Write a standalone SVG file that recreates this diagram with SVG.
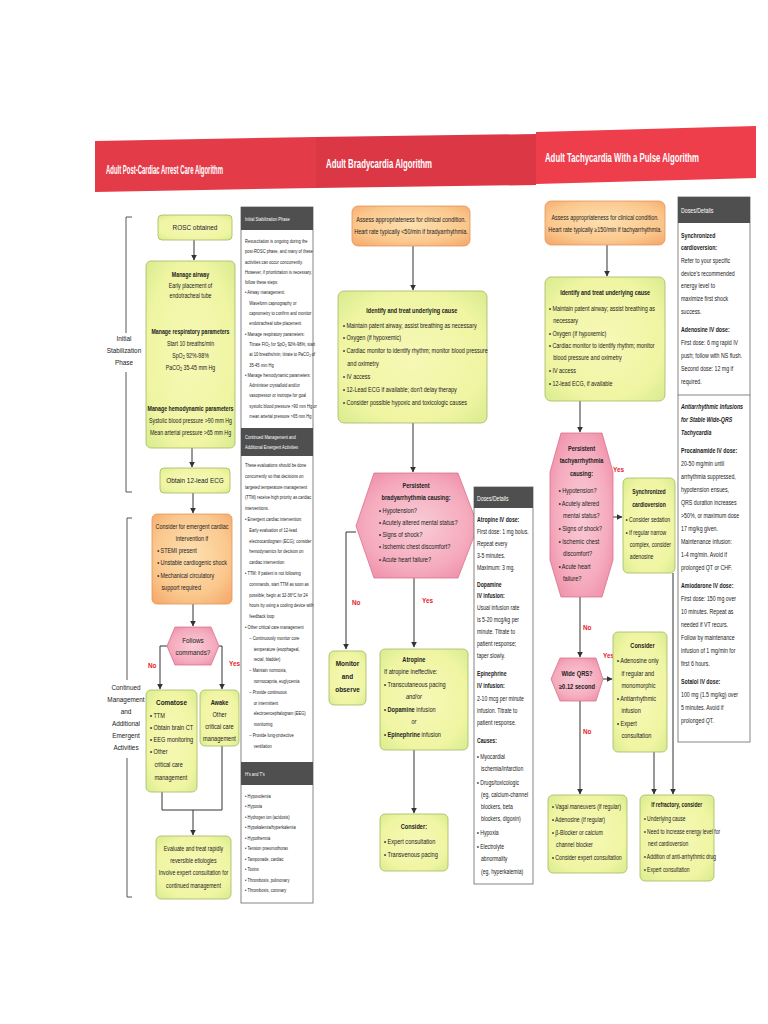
<svg xmlns="http://www.w3.org/2000/svg" width="768" height="1024" viewBox="0 0 768 1024">
<defs>
<radialGradient id="gG" cx="50%" cy="50%" r="75%"><stop offset="0" stop-color="#f7f8b6"/><stop offset="0.65" stop-color="#eff5a2"/><stop offset="1" stop-color="#d3e98a"/></radialGradient>
<radialGradient id="gO" cx="50%" cy="45%" r="75%"><stop offset="0" stop-color="#fde0b0"/><stop offset="0.6" stop-color="#fbc88e"/><stop offset="1" stop-color="#f4a464"/></radialGradient>
<radialGradient id="gP" cx="50%" cy="50%" r="70%"><stop offset="0" stop-color="#f9ccd7"/><stop offset="0.6" stop-color="#f5abbe"/><stop offset="1" stop-color="#ec849f"/></radialGradient>
<marker id="ah" viewBox="0 0 10 10" refX="9" refY="5" markerWidth="6" markerHeight="6" orient="auto" markerUnits="userSpaceOnUse"><path d="M0,0 L10,5 L0,10 z" fill="#333"/></marker>
</defs>
<style>
.t{font-family:"Liberation Sans Narrow","Liberation Sans",Arial,sans-serif;font-size:6.4px;fill:#222}
.s{font-size:5.6px}
.b{font-weight:bold}
.i{font-style:italic}
.m{text-anchor:middle}
.hd{font-family:"Liberation Sans Narrow","Liberation Sans",Arial,sans-serif;font-weight:bold;font-size:13.5px;fill:#fff}
.dk{fill:#4f4f4f}
.wt{fill:#fff}
.red{fill:#e5232c;font-weight:bold}
.gn{fill:url(#gG);stroke:#a5b762;stroke-width:0.8}
.or{fill:url(#gO);stroke:#e2965a;stroke-width:0.8}
.pk{fill:url(#gP);stroke:#d9718f;stroke-width:0.8}
.ln{fill:none;stroke:#333;stroke-width:1}
.ar{marker-end:url(#ah)}
.pn{fill:#fff;stroke:#666;stroke-width:0.8}
.br{fill:none;stroke:#444;stroke-width:0.9}
</style>
<rect width="768" height="1024" fill="#fff"/>

<g id="headers">
<polygon points="95,141 316,137 316,188 95,192" fill="#e43b49"/>
<polygon points="316,137 536,134 536,185 316,188" fill="#dc3745"/>
<polygon points="536,132 756,126 756,178 536,184" fill="#ee3e4c"/>
<g transform="translate(106,174) scale(0.5,1)"><text class="hd" x="0" y="0" textLength="234" lengthAdjust="spacingAndGlyphs">Adult Post-Cardiac Arrest Care Algorithm</text></g>
<g transform="translate(326,168) scale(0.5,1)"><text class="hd" x="0" y="0" textLength="212" lengthAdjust="spacingAndGlyphs">Adult Bradycardia Algorithm</text></g>
<g transform="translate(545,162) scale(0.5,1)"><text class="hd" x="0" y="0" textLength="308" lengthAdjust="spacingAndGlyphs">Adult Tachycardia With a Pulse Algorithm</text></g>
</g>

<g id="connectors">
<line class="ln ar" x1="194" y1="240" x2="194" y2="260"/>
<line class="ln ar" x1="190" y1="302" x2="190" y2="321"/>
<line class="ln ar" x1="190" y1="373" x2="190" y2="399"/>
<line class="ln ar" x1="192" y1="448" x2="192" y2="467"/>
<line class="ln ar" x1="193" y1="493" x2="193" y2="513"/>
<line class="ln ar" x1="193" y1="604" x2="193" y2="626"/>
<polyline class="ln ar" points="167,646 160,646 160,689"/>
<polyline class="ln ar" points="219,646 222,646 222,689"/>
<polyline class="ln" points="162,792 162,810 222,810 222,746"/>
<line class="ln ar" x1="193" y1="810" x2="193" y2="835"/>
<line class="ln ar" x1="413" y1="246" x2="413" y2="290"/>
<line class="ln ar" x1="413" y1="423" x2="413" y2="472"/>
<polyline class="ln ar" points="356,532 346,532 346,649"/>
<line class="ln ar" x1="414" y1="578" x2="414" y2="647"/>
<line class="ln ar" x1="414" y1="750" x2="414" y2="813"/>
<line class="ln ar" x1="607" y1="245" x2="607" y2="276"/>
<line class="ln ar" x1="580" y1="401" x2="580" y2="432"/>
<line class="ln ar" x1="613" y1="517" x2="622" y2="517"/>
<line class="ln ar" x1="580" y1="597" x2="580" y2="657"/>
<line class="ln ar" x1="603" y1="679" x2="612" y2="679"/>
<line class="ln ar" x1="580" y1="701" x2="580" y2="794"/>
<line class="ln ar" x1="654" y1="752" x2="654" y2="794"/>
<line class="ln ar" x1="673" y1="573" x2="673" y2="794"/>
<text class="t red" x="148" y="668">No</text>
<text class="t red" x="229" y="666">Yes</text>
<text class="t red" x="352" y="605">No</text>
<text class="t red" x="422" y="603">Yes</text>
<text class="t red" x="613" y="472">Yes</text>
<text class="t red" x="583" y="630">No</text>
<text class="t red" x="603" y="658">Yes</text>
<text class="t red" x="583" y="734">No</text>
</g>

<g id="brackets">
<path class="br" d="M132,217 H126 V333 M126,372 V492 H132"/>
<text class="t m" x="124" y="341">Initial</text>
<text class="t m" x="124" y="353">Stabilization</text>
<text class="t m" x="124" y="365">Phase</text>
<path class="br" d="M132,518 H127 V680 M127,758 V897 H132"/>
<text class="t m" x="126" y="690">Continued</text>
<text class="t m" x="126" y="702">Management</text>
<text class="t m" x="126" y="714">and</text>
<text class="t m" x="126" y="726">Additional</text>
<text class="t m" x="126" y="738">Emergent</text>
<text class="t m" x="126" y="750">Activities</text>
</g>

<g id="rosc">
<rect class="gn" x="158" y="215" width="74" height="25" rx="4"/>
<text class="t m" x="195" y="230">ROSC obtained</text>
</g>

<g id="stabilize">
<rect class="gn" x="146" y="261" width="89" height="187" rx="5"/>
<g transform="translate(190.5,0) scale(0.82,1)">
<text class="t m b" x="0" y="277">Manage airway</text>
<text class="t m" x="0" y="288">Early placement of</text>
<text class="t m" x="0" y="298">endotracheal tube</text>
<text class="t m b" x="0" y="334">Manage respiratory parameters</text>
<text class="t m" x="0" y="346">Start 10 breaths/min</text>
<text class="t m" x="0" y="358">SpO<tspan font-size="4.5" dy="1.5">2</tspan><tspan dy="-1.5"> 92%-98%</tspan></text>
<text class="t m" x="0" y="370">PaCO<tspan font-size="4.5" dy="1.5">2</tspan><tspan dy="-1.5"> 35-45 mm Hg</tspan></text>
<text class="t m b" x="0" y="411">Manage hemodynamic parameters</text>
<text class="t m" x="0" y="423">Systolic blood pressure &gt;90 mm Hg</text>
<text class="t m" x="0" y="435">Mean arterial pressure &gt;65 mm Hg</text>
</g>
</g>

<g id="ecg">
<rect class="gn" x="160" y="468" width="70" height="25" rx="4"/>
<text class="t m" x="195" y="483">Obtain 12-lead ECG</text>
</g>

<g id="emergent">
<rect class="or" x="152" y="514" width="80" height="90" rx="5"/>
<g transform="translate(192,0) scale(0.85,1)">
<text class="t m" x="0" y="529">Consider for emergent cardiac</text>
<text class="t m" x="0" y="541">intervention if</text>
<text class="t" x="-41" y="553">• STEMI present</text>
<text class="t" x="-41" y="565">• Unstable cardiogenic shock</text>
<text class="t" x="-41" y="578">• Mechanical circulatory</text>
<text class="t" x="-36" y="590">support required</text>
</g>
</g>

<g id="follows">
<polygon class="pk" points="175,627 211,627 219,646 211,665 175,665 167,646"/>
<text class="t m" x="193" y="643">Follows</text>
<text class="t m" x="193" y="655">commands?</text>
</g>

<g id="comatose">
<rect class="gn" x="146" y="690" width="51" height="102" rx="5"/>
<text class="t m b" x="171.5" y="705">Comatose</text>
<g transform="translate(150,0) scale(0.88,1)">
<text class="t" x="0" y="718">• TTM</text>
<text class="t" x="0" y="730">• Obtain brain CT</text>
<text class="t" x="0" y="742">• EEG monitoring</text>
<text class="t" x="0" y="754">• Other</text>
<text class="t" x="5" y="767">critical care</text>
<text class="t" x="5" y="780">management</text>
</g>
</g>

<g id="awake">
<rect class="gn" x="200" y="690" width="39" height="56" rx="5"/>
<g transform="translate(219.5,0) scale(0.88,1)">
<text class="t m b" x="0" y="705">Awake</text>
<text class="t m" x="0" y="717">Other</text>
<text class="t m" x="0" y="729">critical care</text>
<text class="t m" x="0" y="741">management</text>
</g>
</g>

<g id="evaluate">
<rect class="gn" x="156" y="836" width="75" height="63" rx="5"/>
<g transform="translate(193.5,0) scale(0.82,1)">
<text class="t m" x="0" y="851">Evaluate and treat rapidly</text>
<text class="t m" x="0" y="863">reversible etiologies</text>
<text class="t m" x="0" y="875">Involve expert consultation for</text>
<text class="t m" x="0" y="888">continued management</text>
</g>
</g>

<g id="side-panel">
<rect class="pn" x="241" y="207" width="72" height="696"/>
<rect class="dk" x="241" y="207" width="72" height="23"/>
<rect class="dk" x="241" y="428" width="72" height="28"/>
<rect class="dk" x="241" y="762" width="72" height="23"/>
<g transform="translate(245,0) scale(0.72,1)">
<text class="t s wt" x="0" y="221">Initial Stabilization Phase</text>
<text class="t s wt" x="0" y="439">Continued Management and</text>
<text class="t s wt" x="0" y="449">Additional Emergent Activities</text>
<text class="t s wt" x="0" y="776">H's and T's</text>
<text class="t s" x="0" y="243">Resuscitation is ongoing during the</text>
<text class="t s" x="0" y="253.3">post-ROSC phase, and many of these</text>
<text class="t s" x="0" y="263.6">activities can occur concurrently.</text>
<text class="t s" x="0" y="273.9">However, if prioritization is necessary,</text>
<text class="t s" x="0" y="284.2">follow these steps:</text>
<text class="t s" x="0" y="294.5">• Airway management:</text>
<text class="t s" x="6" y="304.8">Waveform capnography or</text>
<text class="t s" x="6" y="315.1">capnometry to confirm and monitor</text>
<text class="t s" x="6" y="325.4">endotracheal tube placement</text>
<text class="t s" x="0" y="335.7">• Manage respiratory parameters:</text>
<text class="t s" x="6" y="346">Titrate FIO<tspan font-size="4" dy="1">2</tspan><tspan dy="-1"> for SpO</tspan><tspan font-size="4" dy="1">2</tspan><tspan dy="-1"> 92%-98%; start</tspan></text>
<text class="t s" x="6" y="356.3">at 10 breaths/min; titrate to PaCO<tspan font-size="4" dy="1">2</tspan><tspan dy="-1"> of</tspan></text>
<text class="t s" x="6" y="366.6">35-45 mm Hg</text>
<text class="t s" x="0" y="376.9">• Manage hemodynamic parameters:</text>
<text class="t s" x="6" y="387.2">Administer crystalloid and/or</text>
<text class="t s" x="6" y="397.5">vasopressor or inotrope for goal</text>
<text class="t s" x="6" y="407.8">systolic blood pressure &gt;90 mm Hg or</text>
<text class="t s" x="6" y="418.1">mean arterial pressure &gt;65 mm Hg</text>
<text class="t s" x="0" y="467">These evaluations should be done</text>
<text class="t s" x="0" y="477.8">concurrently so that decisions on</text>
<text class="t s" x="0" y="488.6">targeted temperature management</text>
<text class="t s" x="0" y="499.4">(TTM) receive high priority as cardiac</text>
<text class="t s" x="0" y="510.2">interventions.</text>
<text class="t s" x="0" y="521">• Emergent cardiac intervention:</text>
<text class="t s" x="6" y="531.8">Early evaluation of 12-lead</text>
<text class="t s" x="6" y="542.6">electrocardiogram (ECG); consider</text>
<text class="t s" x="6" y="553.4">hemodynamics for decision on</text>
<text class="t s" x="6" y="564.2">cardiac intervention</text>
<text class="t s" x="0" y="575">• TTM: If patient is not following</text>
<text class="t s" x="6" y="585.8">commands, start TTM as soon as</text>
<text class="t s" x="6" y="596.6">possible; begin at 32-36°C for 24</text>
<text class="t s" x="6" y="607.4">hours by using a cooling device with</text>
<text class="t s" x="6" y="618.2">feedback loop</text>
<text class="t s" x="0" y="629">• Other critical care management</text>
<text class="t s" x="6" y="639.8">– Continuously monitor core</text>
<text class="t s" x="12" y="650.6">temperature (esophageal,</text>
<text class="t s" x="12" y="661.4">rectal, bladder)</text>
<text class="t s" x="6" y="672.2">– Maintain normoxia,</text>
<text class="t s" x="12" y="683">normocapnia, euglycemia</text>
<text class="t s" x="6" y="693.8">– Provide continuous</text>
<text class="t s" x="12" y="704.6">or intermittent</text>
<text class="t s" x="12" y="715.4">electroencephalogram (EEG)</text>
<text class="t s" x="12" y="726.2">monitoring</text>
<text class="t s" x="6" y="737">– Provide lung-protective</text>
<text class="t s" x="12" y="747.8">ventilation</text>
<text class="t s" x="0" y="798">• Hypovolemia</text>
<text class="t s" x="0" y="808.5">• Hypoxia</text>
<text class="t s" x="0" y="819">• Hydrogen ion (acidosis)</text>
<text class="t s" x="0" y="829.5">• Hypokalemia/hyperkalemia</text>
<text class="t s" x="0" y="840">• Hypothermia</text>
<text class="t s" x="0" y="850.5">• Tension pneumothorax</text>
<text class="t s" x="0" y="861">• Tamponade, cardiac</text>
<text class="t s" x="0" y="871.5">• Toxins</text>
<text class="t s" x="0" y="882">• Thrombosis, pulmonary</text>
<text class="t s" x="0" y="892.5">• Thrombosis, coronary</text>
</g>
</g>

<g id="brady-assess">
<rect class="or" x="352" y="206" width="118" height="40" rx="6"/>
<g transform="translate(411,0) scale(0.86,1)">
<text class="t m" x="0" y="222">Assess appropriateness for clinical condition.</text>
<text class="t m" x="0" y="234">Heart rate typically &lt;50/min if bradyarrhythmia.</text>
</g>
</g>

<g id="brady-identify">
<rect class="gn" x="338" y="291" width="149" height="132" rx="6"/>
<g transform="translate(343,0) scale(0.86,1)">
<text class="t m b" x="80" y="313">Identify and treat underlying cause</text>
<text class="t" x="0" y="328">• Maintain patent airway; assist breathing as necessary</text>
<text class="t" x="0" y="340">• Oxygen (if hypoxemic)</text>
<text class="t" x="0" y="353">• Cardiac monitor to identify rhythm; monitor blood pressure</text>
<text class="t" x="5" y="366">and oximetry</text>
<text class="t" x="0" y="379">• IV access</text>
<text class="t" x="0" y="392">• 12-Lead ECG if available; don't delay therapy</text>
<text class="t" x="0" y="405">• Consider possible hypoxic and toxicologic causes</text>
</g>
</g>

<g id="brady-persistent">
<polygon class="pk" points="374,473 458,473 478,526 458,578 374,578 356,526"/>
<g transform="translate(416,0) scale(0.88,1)">
<text class="t m b" x="0" y="488">Persistent</text>
<text class="t m b" x="0" y="500">bradyarrhythmia causing:</text>
<text class="t" x="-42" y="513">• Hypotension?</text>
<text class="t" x="-42" y="525">• Acutely altered mental status?</text>
<text class="t" x="-42" y="537">• Signs of shock?</text>
<text class="t" x="-42" y="549">• Ischemic chest discomfort?</text>
<text class="t" x="-42" y="562">• Acute heart failure?</text>
</g>
</g>

<g id="monitor">
<rect class="gn" x="329" y="651" width="37" height="54" rx="5"/>
<text class="t m b" x="347.5" y="666">Monitor</text>
<text class="t m b" x="347.5" y="679">and</text>
<text class="t m b" x="347.5" y="692">observe</text>
</g>

<g id="atropine">
<rect class="gn" x="380" y="649" width="88" height="101" rx="5"/>
<g transform="translate(384,0) scale(0.88,1)">
<text class="t m b" x="34" y="662">Atropine</text>
<text class="t" x="0" y="674">If atropine ineffective:</text>
<text class="t" x="0" y="687">• Transcutaneous pacing</text>
<text class="t i m" x="34" y="699">and/or</text>
<text class="t" x="0" y="712">• <tspan class="b">Dopamine</tspan> infusion</text>
<text class="t i m" x="34" y="724">or</text>
<text class="t" x="0" y="737">• <tspan class="b">Epinephrine</tspan> infusion</text>
</g>
</g>

<g id="brady-consider">
<rect class="gn" x="380" y="814" width="68" height="57" rx="5"/>
<g transform="translate(384,0) scale(0.88,1)">
<text class="t m b" x="34" y="829">Consider:</text>
<text class="t" x="0" y="844">• Expert consultation</text>
<text class="t" x="0" y="857">• Transvenous pacing</text>
</g>
</g>

<g id="brady-doses">
<rect class="pn" x="474" y="487" width="59" height="397"/>
<rect class="dk" x="474" y="487" width="59" height="21"/>
<g transform="translate(477,0) scale(0.8,1)">
<text class="t wt" x="0" y="501">Doses/Details</text>
<text class="t b" x="0" y="522">Atropine IV dose:</text>
<text class="t" x="0" y="534">First dose: 1 mg bolus.</text>
<text class="t" x="0" y="546">Repeat every</text>
<text class="t" x="0" y="558">3-5 minutes.</text>
<text class="t" x="0" y="570">Maximum: 3 mg.</text>
<text class="t b" x="0" y="587">Dopamine</text>
<text class="t b" x="0" y="598">IV infusion:</text>
<text class="t" x="0" y="610">Usual infusion rate</text>
<text class="t" x="0" y="622">is 5-20 mcg/kg per</text>
<text class="t" x="0" y="634">minute. Titrate to</text>
<text class="t" x="0" y="646">patient response;</text>
<text class="t" x="0" y="658">taper slowly.</text>
<text class="t b" x="0" y="676">Epinephrine</text>
<text class="t b" x="0" y="688">IV infusion:</text>
<text class="t" x="0" y="701">2-10 mcg per minute</text>
<text class="t" x="0" y="713">infusion. Titrate to</text>
<text class="t" x="0" y="725">patient response.</text>
<text class="t b" x="0" y="743">Causes:</text>
<text class="t" x="0" y="759">• Myocardial</text>
<text class="t" x="5" y="771">ischemia/infarction</text>
<text class="t" x="0" y="785">• Drugs/toxicologic</text>
<text class="t" x="5" y="797">(eg, calcium-channel</text>
<text class="t" x="5" y="809">blockers, beta</text>
<text class="t" x="5" y="821">blockers, digoxin)</text>
<text class="t" x="0" y="835">• Hypoxia</text>
<text class="t" x="0" y="849">• Electrolyte</text>
<text class="t" x="5" y="861">abnormality</text>
<text class="t" x="5" y="874">(eg, hyperkalemia)</text>
</g>
</g>

<g id="tachy-assess">
<rect class="or" x="545" y="201" width="120" height="44" rx="6"/>
<g transform="translate(605,0) scale(0.84,1)">
<text class="t m" x="0" y="220">Assess appropriateness for clinical condition.</text>
<text class="t m" x="0" y="232">Heart rate typically ≥150/min if tachyarrhythmia.</text>
</g>
</g>

<g id="tachy-identify">
<rect class="gn" x="545" y="277" width="120" height="124" rx="6"/>
<g transform="translate(549,0) scale(0.85,1)">
<text class="t m b" x="66" y="295">Identify and treat underlying cause</text>
<text class="t" x="0" y="311">• Maintain patent airway; assist breathing as</text>
<text class="t" x="5" y="323">necessary</text>
<text class="t" x="0" y="336">• Oxygen (if hypoxemic)</text>
<text class="t" x="0" y="348">• Cardiac monitor to identify rhythm; monitor</text>
<text class="t" x="5" y="360">blood pressure and oximetry</text>
<text class="t" x="0" y="373">• IV access</text>
<text class="t" x="0" y="386">• 12-lead ECG, if available</text>
</g>
</g>

<g id="tachy-persistent">
<polygon class="pk" points="561,433 602,433 613,472 613,560 602,597 561,597 550,560 550,472"/>
<g transform="translate(581.5,0) scale(0.88,1)">
<text class="t m b" x="0" y="451">Persistent</text>
<text class="t m b" x="0" y="463">tachyarrhythmia</text>
<text class="t m b" x="0" y="476">causing:</text>
<text class="t" x="-26" y="493">• Hypotension?</text>
<text class="t" x="-26" y="506">• Acutely altered</text>
<text class="t" x="-21" y="518">mental status?</text>
<text class="t" x="-26" y="531">• Signs of shock?</text>
<text class="t" x="-26" y="544">• Ischemic chest</text>
<text class="t" x="-21" y="556">discomfort?</text>
<text class="t" x="-26" y="569">• Acute heart</text>
<text class="t" x="-21" y="581">failure?</text>
</g>
</g>

<g id="sync-cardioversion">
<rect class="gn" x="623" y="478" width="52" height="95" rx="5"/>
<g transform="translate(649,0) scale(0.8,1)">
<text class="t m b" x="0" y="494">Synchronized</text>
<text class="t m b" x="0" y="507">cardioversion</text>
<text class="t" x="-29" y="522">• Consider sedation</text>
<text class="t" x="-29" y="535">• If regular narrow</text>
<text class="t" x="-24" y="547">complex, consider</text>
<text class="t" x="-24" y="559">adenosine</text>
</g>
</g>

<g id="wide-qrs">
<polygon class="pk" points="560,658 596,658 603,679 596,701 560,701 551,679"/>
<g transform="translate(577,0) scale(0.9,1)">
<text class="t m b" x="0" y="676">Wide QRS?</text>
<text class="t m b" x="0" y="689">≥0.12 second</text>
</g>
</g>

<g id="tachy-consider">
<rect class="gn" x="613" y="632" width="54" height="120" rx="5"/>
<g transform="translate(617,0) scale(0.88,1)">
<text class="t m b" x="29" y="648">Consider</text>
<text class="t" x="0" y="663">• Adenosine only</text>
<text class="t" x="5" y="676">if regular and</text>
<text class="t" x="5" y="688">monomorphic</text>
<text class="t" x="0" y="701">• Antiarrhythmic</text>
<text class="t" x="5" y="713">infusion</text>
<text class="t" x="0" y="726">• Expert</text>
<text class="t" x="5" y="738">consultation</text>
</g>
</g>

<g id="vagal">
<rect class="gn" x="548" y="795" width="79" height="78" rx="5"/>
<g transform="translate(552,0) scale(0.82,1)">
<text class="t" x="0" y="809">• Vagal maneuvers (if regular)</text>
<text class="t" x="0" y="822">• Adenosine (if regular)</text>
<text class="t" x="0" y="835">• β-Blocker or calcium</text>
<text class="t" x="5" y="847">channel blocker</text>
<text class="t" x="0" y="860">• Consider expert consultation</text>
</g>
</g>

<g id="refractory">
<rect class="gn" x="640" y="795" width="74" height="86" rx="5"/>
<g transform="translate(644,0) scale(0.78,1)">
<text class="t m b" x="42" y="807">If refractory, consider</text>
<text class="t" x="0" y="821">• Underlying cause</text>
<text class="t" x="0" y="834">• Need to increase energy level for</text>
<text class="t" x="5" y="846">next cardioversion</text>
<text class="t" x="0" y="859">• Addition of anti-arrhythmic drug</text>
<text class="t" x="0" y="872">• Expert consultation</text>
</g>
</g>

<g id="tachy-doses">
<rect class="pn" x="678" y="197" width="72" height="545"/>
<rect class="dk" x="678" y="197" width="72" height="26"/>
<line x1="678" y1="395" x2="750" y2="395" stroke="#666" stroke-width="0.8"/>
<g transform="translate(681,0) scale(0.82,1)">
<text class="t wt" x="0" y="213">Doses/Details</text>
<text class="t b" x="0" y="238">Synchronized</text>
<text class="t b" x="0" y="250">cardioversion:</text>
<text class="t" x="0" y="263">Refer to your specific</text>
<text class="t" x="0" y="276">device's recommended</text>
<text class="t" x="0" y="288">energy level to</text>
<text class="t" x="0" y="301">maximize first shock</text>
<text class="t" x="0" y="314">success.</text>
<text class="t b" x="0" y="332">Adenosine IV dose:</text>
<text class="t" x="0" y="345">First dose: 6 mg rapid IV</text>
<text class="t" x="0" y="358">push; follow with NS flush.</text>
<text class="t" x="0" y="371">Second dose: 12 mg if</text>
<text class="t" x="0" y="384">required.</text>
<text class="t b i" x="0" y="409">Antiarrhythmic Infusions</text>
<text class="t b i" x="0" y="422">for Stable Wide-QRS</text>
<text class="t b i" x="0" y="435">Tachycardia</text>
<text class="t b" x="0" y="453">Procainamide IV dose:</text>
<text class="t" x="0" y="466">20-50 mg/min until</text>
<text class="t" x="0" y="479">arrhythmia suppressed,</text>
<text class="t" x="0" y="492">hypotension ensues,</text>
<text class="t" x="0" y="505">QRS duration increases</text>
<text class="t" x="0" y="518">&gt;50%, or maximum dose</text>
<text class="t" x="0" y="531">17 mg/kg given.</text>
<text class="t" x="0" y="544">Maintenance infusion:</text>
<text class="t" x="0" y="557">1-4 mg/min. Avoid if</text>
<text class="t" x="0" y="570">prolonged QT or CHF.</text>
<text class="t b" x="0" y="588">Amiodarone IV dose:</text>
<text class="t" x="0" y="601">First dose: 150 mg over</text>
<text class="t" x="0" y="614">10 minutes. Repeat as</text>
<text class="t" x="0" y="627">needed if VT recurs.</text>
<text class="t" x="0" y="640">Follow by maintenance</text>
<text class="t" x="0" y="653">infusion of 1 mg/min for</text>
<text class="t" x="0" y="666">first 6 hours.</text>
<text class="t b" x="0" y="684">Sotalol IV dose:</text>
<text class="t" x="0" y="697">100 mg (1.5 mg/kg) over</text>
<text class="t" x="0" y="710">5 minutes. Avoid if</text>
<text class="t" x="0" y="723">prolonged QT.</text>
</g>
</g>
</svg>
